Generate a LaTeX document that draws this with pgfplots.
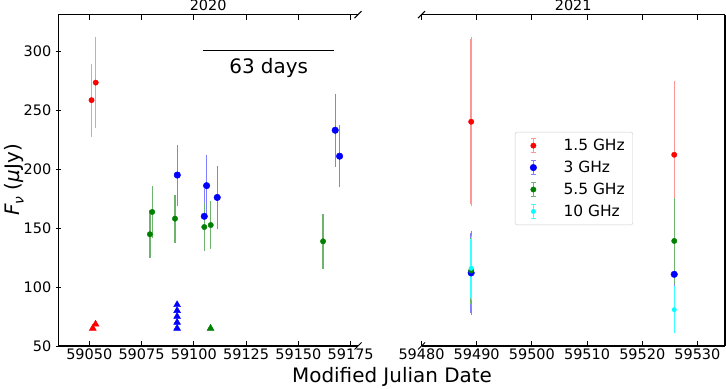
\documentclass[border=0pt]{standalone}
\usepackage{pgfplots}
\pgfplotsset{compat=1.18}
\usepackage{fontspec}
\setmainfont{DejaVu Sans}
\definecolor{mred}{RGB}{255,0,0}
\definecolor{mblue}{RGB}{0,0,255}
\definecolor{mgreen}{RGB}{0,128,0}
\definecolor{mcyan}{RGB}{0,255,255}
\definecolor{lred}{RGB}{255,150,150}
\definecolor{lblue}{RGB}{128,128,255}
\definecolor{lgreen}{RGB}{110,180,110}
\definecolor{lcyan}{RGB}{60,255,255}

\pgfplotsset{
  common/.style={
    scale only axis, height=331.3bp, ymin=50, ymax=331,
    clip=false,
    scaled x ticks=false, scaled y ticks=false,
    /pgf/number format/.cd, 1000 sep={}, assume math mode=true, /pgfplots/.cd,
    tick label style={font=\fontsize{14.5}{17}\selectfont},
    tick align=inside, major tick length=5bp,
    axis line style={line width=1.1bp}, every tick/.style={black, line width=1bp},
    every axis title shift=0pt,
    title style={at={(0.5,1)}, anchor=base, yshift=4bp, inner sep=0pt, font=\fontsize{14.5}{17}\selectfont},
    xticklabel style={yshift=1bp},
  },
  ebleg/.style n args={4}{legend image code/.code={
     \draw[#2, line width=1.4bp] (12bp,-#4) -- (12bp,#4);
     \draw[#2, line width=1.2bp] (9.5bp,-#4)--(14.5bp,-#4) (9.5bp,#4)--(14.5bp,#4);
     \fill[#1] (12bp,0) circle (#3);
     \path (0bp,0bp) (40bp,0bp);
  }},
  eb/.style n args={4}{only marks, mark=*, mark size=#3, color=#1, mark options={fill=#1, draw=#1},
     error bars/.cd, y dir=both, y explicit, error mark=-,
     error bar style={color=#2, line width=1.4bp, solid},
     error mark options={color=#2, mark size=#4, line width=1.2bp, solid}, /pgfplots/.cd},
  ul/.style={only marks, mark=triangle*, mark size=4bp, color=#1, mark options={fill=#1, draw=#1}},
}

\begin{document}
\begin{tikzpicture}
\path[use as bounding box] (-58.3bp,-43bp) rectangle (667.7bp,346bp);

% ---------------- 2020 panel ----------------
\begin{axis}[common, at={(0,0)}, anchor=south west, width=299.7bp,
  xmin=59035.2, xmax=59178.5,
  axis y line*=left,
  xtick={59050,59075,59100,59125,59150,59175},
  ytick={50,100,150,200,250,300},
  ytick align=center, yticklabel style={xshift=-1bp},
  title={2020},
]
% 1.5 GHz
\addplot[eb={mred}{lred}{2.7bp}{2.2bp}] coordinates {
 (59051.1,258.5) +- (0,29)
 (59053.1,273.4) +- (0,37)
};
% 3 GHz
\addplot[eb={mblue}{lblue}{3.3bp}{2.2bp}] coordinates {
 (59092.1,195.0) +- (0,24)
 (59106.1,186.0) +- (0,24.5)
 (59105.0,160.0) +- (0,21)
 (59111.2,176.0) +- (0,25)
 (59167.6,233.0) +- (0,29)
 (59169.7,211.0) +- (0,24.5)
};
% 5.5 GHz
\addplot[eb={mgreen}{lgreen}{2.7bp}{4bp}] coordinates {
 (59079.0,144.8) +- (0,17)
 (59080.1,163.7) +- (0,19)
 (59091.0,158.0) +- (0,17)
 (59105.0,150.9) +- (0,17)
 (59108.1,152.6) +- (0,17)
 (59161.8,138.8) +- (0,20)
};
% upper limits
\addplot[ul=mred] coordinates {(59051.7,65) (59053,68.5)};
\addplot[ul=mblue] coordinates {(59092,65) (59092,70) (59092,75) (59092,80) (59092,85)};
\addplot[ul=mgreen] coordinates {(59108,65)};
% 63 days bar
\addplot[black, line width=1bp, no marks] coordinates {(59104.2,300.5) (59167,300.5)};
\node[anchor=base, font=\fontsize{20}{24}\selectfont, inner sep=0pt] at (axis cs:59135.8,281.4) {63 days};
% break marks
\draw[line width=1bp] ([xshift=-3.5bp,yshift=-3.5bp]rel axis cs:1,1) -- ([xshift=3.5bp,yshift=3.5bp]rel axis cs:1,1);
\draw[line width=1bp] ([xshift=-3.5bp,yshift=-3.5bp]rel axis cs:1,0) -- ([xshift=3.5bp,yshift=3.5bp]rel axis cs:1,0);
\end{axis}

% ---------------- 2021 panel ----------------
\begin{axis}[common, at={(363.2bp,0)}, anchor=south west, width=303.5bp,
  xmin=59480, xmax=59535,
  axis y line*=right, ytick=\empty,
  xtick={59480,59490,59500,59510,59520,59530},
  title={2021},
  legend style={at={(0.308,0.646)}, anchor=north west, draw=black!20, rounded corners=2bp,
     font=\fontsize{15.5}{18}\selectfont, inner xsep=6bp, inner ysep=5bp, row sep=5bp},
  legend cell align=left,
]
\addplot[ebleg={mred}{lred}{2.7bp}{7bp}, eb={mred}{lred}{2.7bp}{2.2bp}] coordinates {
 (59489.0,240.2) +- (0,70)
 (59525.8,212.2) +- (0,61)
};
\addlegendentry{1.5 GHz}
\addplot[ebleg={mblue}{lblue}{3.3bp}{7bp}, eb={mblue}{lblue}{3.3bp}{2.2bp}] coordinates {
 (59489.0,112.0) +- (0,34)
 (59525.8,110.8) +- (0,33)
};
\addlegendentry{3 GHz}
\addplot[ebleg={mgreen}{lgreen}{2.7bp}{7bp}, eb={mgreen}{lgreen}{2.7bp}{4bp}] coordinates {
 (59489.0,114.0) +- (0,28)
 (59525.8,139.1) +- (0,33)
};
\addlegendentry{5.5 GHz}
\addplot[ebleg={mcyan}{lcyan}{2.2bp}{7bp}, eb={mcyan}{lcyan}{2.2bp}{2.5bp}] coordinates {
 (59489.0,115.9) +- (0,25)
 (59525.8,80.8) +- (0,18)
};
\addlegendentry{10 GHz}
\draw[line width=1bp] ([xshift=-3.5bp,yshift=-3.5bp]rel axis cs:0,1) -- ([xshift=3.5bp,yshift=3.5bp]rel axis cs:0,1);
\draw[line width=1bp] ([xshift=-3.5bp,yshift=-3.5bp]rel axis cs:0,0) -- ([xshift=3.5bp,yshift=3.5bp]rel axis cs:0,0);
\end{axis}

\node[font=\fontsize{20}{24}\selectfont, inner sep=0pt] at (333.7bp,-31bp) {Modified Julian Date};
\node[rotate=90, font=\fontsize{20}{24}\selectfont, inner sep=0pt] at (-44bp,166bp) {\textit{F}\raisebox{-0.35ex}{\fontsize{14}{16}\selectfont\textit{ν}} (\textit{μ}Jy)};
\end{tikzpicture}
\end{document}
